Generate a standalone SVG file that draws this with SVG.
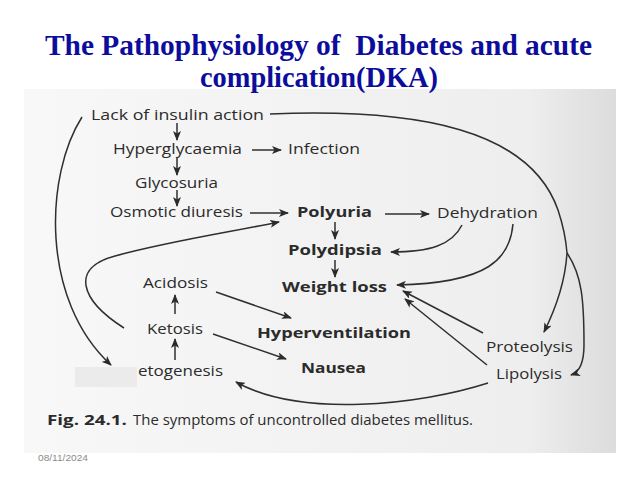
<svg xmlns="http://www.w3.org/2000/svg" width="638" height="478" viewBox="0 0 638 478">
<defs>
<linearGradient id="scan" x1="0" y1="0" x2="1" y2="0">
<stop offset="0" stop-color="#f8f8f8"/>
<stop offset="0.85" stop-color="#eeeeee"/>
<stop offset="1" stop-color="#dcdcdc"/>
</linearGradient>
<marker id="ah" markerWidth="10" markerHeight="8" refX="9" refY="4" orient="auto" markerUnits="userSpaceOnUse">
<path d="M0,0 L10,4 L0,8 L2.5,4 Z" fill="#2b2b2b"/>
</marker>
</defs>
<style>
.t{font-family:"Liberation Serif","DejaVu Serif",serif;font-weight:bold;fill:#0d0d9c;font-size:29px}
.n{font-family:"Open Sans","Noto Sans",sans-serif;font-size:14px;fill:#2b2b2b}
.b{font-weight:bold}
.c{fill:none;stroke:#2f2f2f;stroke-width:1.5;marker-end:url(#ah)}
.p{fill:none;stroke:#2f2f2f;stroke-width:1.5}
</style>
<rect width="638" height="478" fill="#ffffff"/>
<rect x="24" y="89" width="592" height="364" fill="url(#scan)"/>
<rect x="75" y="367" width="62" height="20" fill="#ebebeb"/>
<g id="title">
<text class="t" x="45" y="55" xml:space="preserve" textLength="547" lengthAdjust="spacingAndGlyphs">The Pathophysiology of  Diabetes and acute</text>
<text class="t" x="200" y="87" textLength="238" lengthAdjust="spacingAndGlyphs">complication(DKA)</text>
</g>
<g id="connectors">
<path class="c" d="M177,123 V140"/>
<path class="c" d="M252,150 H281"/>
<path class="c" d="M177,158 V175"/>
<path class="c" d="M177,190 V206"/>
<path class="c" d="M250,213 H288"/>
<path class="c" d="M385,214 H429"/>
<path class="c" d="M335,222 V239"/>
<path class="c" d="M335,260 V277"/>
<path class="c" d="M462,225 C452,245 430,252 391,252"/>
<path class="c" d="M513,224 C510,258 490,283 397,285"/>
<path class="c" d="M483,333 L403,291"/>
<path class="c" d="M487,365 L405,299"/>
<path class="c" d="M175,314 V295"/>
<path class="c" d="M175,360 V339"/>
<path class="c" d="M216,292 L291,318"/>
<path class="c" d="M213,334 L286,359"/>
<path class="c" d="M488,383 C420,405 300,418 236,382"/>
<path class="c" d="M124,328 C80,300 70,268 115,256 C165,242 230,232 279,222"/>
<path class="c" d="M82,117 C45,175 40,300 111,365"/>
<path class="p" d="M270,114 C420,108 530,130 558,210 C563,225 566,240 567,253"/>
<path class="c" d="M567,253 C565,285 555,310 544,332"/>
<path class="c" d="M567,253 C582,275 584,300 584,345 C584,362 580,372 571,375"/>
</g>
<g id="n-lack"><text class="n" x="91" y="120" textLength="173" lengthAdjust="spacingAndGlyphs">Lack of insulin action</text></g>
<g id="n-hyper"><text class="n" x="113" y="154" textLength="129" lengthAdjust="spacingAndGlyphs">Hyperglycaemia</text></g>
<g id="n-infection"><text class="n" x="288" y="154" textLength="72" lengthAdjust="spacingAndGlyphs">Infection</text></g>
<g id="n-glycosuria"><text class="n" x="135" y="188" textLength="83" lengthAdjust="spacingAndGlyphs">Glycosuria</text></g>
<g id="n-osmotic"><text class="n" x="110" y="217" textLength="133" lengthAdjust="spacingAndGlyphs">Osmotic diuresis</text></g>
<g id="n-polyuria"><text class="n b" x="297" y="217" textLength="75" lengthAdjust="spacingAndGlyphs">Polyuria</text></g>
<g id="n-dehydration"><text class="n" x="437" y="218" textLength="101" lengthAdjust="spacingAndGlyphs">Dehydration</text></g>
<g id="n-polydipsia"><text class="n b" x="288" y="255" textLength="94" lengthAdjust="spacingAndGlyphs">Polydipsia</text></g>
<g id="n-weightloss"><text class="n b" x="282" y="292" textLength="105" lengthAdjust="spacingAndGlyphs">Weight loss</text></g>
<g id="n-acidosis"><text class="n" x="143" y="288" textLength="65" lengthAdjust="spacingAndGlyphs">Acidosis</text></g>
<g id="n-ketosis"><text class="n" x="147" y="334" textLength="56" lengthAdjust="spacingAndGlyphs">Ketosis</text></g>
<g id="n-ketogenesis"><text class="n" x="138" y="376" textLength="85" lengthAdjust="spacingAndGlyphs">etogenesis</text></g>
<g id="n-hyperventilation"><text class="n b" x="257" y="338" textLength="154" lengthAdjust="spacingAndGlyphs">Hyperventilation</text></g>
<g id="n-nausea"><text class="n b" x="301" y="373" textLength="65" lengthAdjust="spacingAndGlyphs">Nausea</text></g>
<g id="n-proteolysis"><text class="n" x="486" y="352" textLength="87" lengthAdjust="spacingAndGlyphs">Proteolysis</text></g>
<g id="n-lipolysis"><text class="n" x="496" y="379" textLength="66" lengthAdjust="spacingAndGlyphs">Lipolysis</text></g>
<g id="caption">
<text class="n b" x="47" y="425" textLength="80" lengthAdjust="spacingAndGlyphs">Fig. 24.1.</text>
<text class="n" x="133" y="425" textLength="340" lengthAdjust="spacingAndGlyphs">The symptoms of uncontrolled diabetes mellitus.</text>
</g>
<g id="date"><text x="38" y="461" font-family="Liberation Sans, sans-serif" font-size="9" fill="#8a8a8a" textLength="50" lengthAdjust="spacingAndGlyphs">08/11/2024</text></g>
</svg>
